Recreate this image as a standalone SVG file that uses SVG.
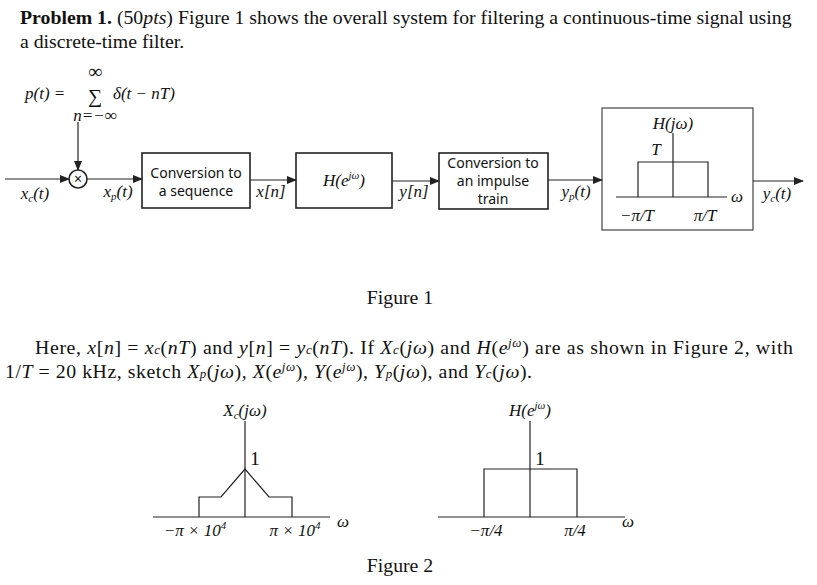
<svg xmlns="http://www.w3.org/2000/svg" width="817" height="585" viewBox="0 0 817 585">
<style>
text{font-family:"Liberation Serif","DejaVu Serif",serif;font-size:19.8px;fill:#111}
.m{font-family:"Liberation Serif","DejaVu Serif",serif;font-style:italic;font-size:17px}
.s{font-family:"Noto Sans","DejaVu Sans",sans-serif;font-size:14px;font-style:normal}
.c{text-anchor:middle}
.box{fill:#fff;stroke:#222;stroke-width:1.6}
.ln{fill:none;stroke:#222;stroke-width:1.2}
</style>
<defs><marker id="a" markerWidth="10" markerHeight="8" refX="9" refY="4" orient="auto" markerUnits="userSpaceOnUse"><path d="M0,0L10,4L0,8z" fill="#222"/></marker></defs>
<rect width="817" height="585" fill="#fff"/>
<text x="20" y="24"><tspan font-weight="bold">Problem 1.</tspan> (50<tspan font-style="italic">pts</tspan>) Figure 1 shows the overall system for filtering a continuous-time signal using</text>
<text x="20" y="48">a discrete-time filter.</text>
<g id="p"><text x="25" y="99" class="m">p(t) =</text><text x="95" y="103" class="c" font-size="28" font-family="DejaVu Serif">∑</text><text x="95" y="78" class="c" font-size="11">∞</text><text x="95" y="121" class="c m" font-size="11">n=−∞</text><text x="113" y="99" class="m">δ(t − nT)</text></g>
<g id="mult"><circle cx="78" cy="179" r="9" class="box" stroke-width="1.3"/><text x="78" y="184" class="c s">×</text></g>
<g id="b1"><rect x="142" y="153" width="108" height="55" class="box"/><text x="196" y="178" class="c s">Conversion to</text><text x="196" y="196" class="c s">a sequence</text></g>
<g id="b2"><rect x="296" y="153" width="96" height="55" class="box"/><text x="344" y="186" class="c m">H(e<tspan font-size="11" dy="-7">jω</tspan><tspan dy="7">)</tspan></text></g>
<g id="b3"><rect x="439" y="153" width="109" height="56" class="box"/><text x="493" y="168" class="c s">Conversion to</text><text x="493" y="186" class="c s">an impulse</text><text x="493" y="204" class="c s">train</text></g>
<g id="b4"><rect x="602" y="108" width="151" height="122" fill="#fff" stroke="#444" stroke-width="1.2"/>
<line x1="616" y1="197" x2="727" y2="197" class="ln"/><line x1="673" y1="133" x2="673" y2="197" class="ln"/><path d="M638,197V162H708V197" class="ln"/>
<text x="673" y="129" class="c m">H(jω)</text><text x="656" y="155" class="c m">T</text><text x="737" y="202" class="c m">ω</text><text x="637" y="221" class="c m">−π/T</text><text x="705" y="221" class="c m">π/T</text></g>
<g id="conn">
<line x1="5" y1="179" x2="69" y2="179" class="ln" marker-end="url(#a)"/>
<line x1="78" y1="122" x2="78" y2="170" class="ln" marker-end="url(#a)"/>
<line x1="87" y1="179" x2="142" y2="179" class="ln" marker-end="url(#a)"/>
<line x1="250" y1="180" x2="296" y2="180" class="ln" marker-end="url(#a)"/>
<line x1="392" y1="181" x2="439" y2="181" class="ln" marker-end="url(#a)"/>
<line x1="548" y1="180" x2="602" y2="180" class="ln" marker-end="url(#a)"/>
<line x1="753" y1="181" x2="803" y2="181" class="ln" marker-end="url(#a)"/>
</g>
<g><text x="35" y="199" class="c m">x<tspan font-size="11" dy="3">c</tspan><tspan dy="-3">(t)</tspan></text>
<text x="118" y="197" class="c m">x<tspan font-size="11" dy="3">p</tspan><tspan dy="-3">(t)</tspan></text>
<text x="271" y="197" class="c m">x[n]</text><text x="414" y="197" class="c m">y[n]</text>
<text x="576" y="197" class="c m">y<tspan font-size="11" dy="3">p</tspan><tspan dy="-3">(t)</tspan></text>
<text x="777" y="199" class="c m">y<tspan font-size="11" dy="3">c</tspan><tspan dy="-3">(t)</tspan></text></g>
<text x="400" y="304" class="c">Figure 1</text>
<text x="35" y="354" textLength="758" lengthAdjust="spacing">Here, <tspan font-style="italic">x</tspan>[<tspan font-style="italic">n</tspan>] = <tspan font-style="italic">x<tspan font-size="13">c</tspan></tspan>(<tspan font-style="italic">nT</tspan>) and <tspan font-style="italic">y</tspan>[<tspan font-style="italic">n</tspan>] = <tspan font-style="italic">y<tspan font-size="13">c</tspan></tspan>(<tspan font-style="italic">nT</tspan>). If <tspan font-style="italic">X<tspan font-size="13">c</tspan></tspan>(<tspan font-style="italic">jω</tspan>) and <tspan font-style="italic">H</tspan>(<tspan font-style="italic">e<tspan font-size="13" dy="-7">jω</tspan></tspan><tspan dy="7">)</tspan> are as shown in Figure 2, with</text>
<text x="5" y="378" textLength="527" lengthAdjust="spacing">1/<tspan font-style="italic">T</tspan> = 20 kHz, sketch <tspan font-style="italic">X<tspan font-size="13">p</tspan></tspan>(<tspan font-style="italic">jω</tspan>), <tspan font-style="italic">X</tspan>(<tspan font-style="italic">e<tspan font-size="13" dy="-7">jω</tspan></tspan><tspan dy="7">), </tspan><tspan font-style="italic">Y</tspan>(<tspan font-style="italic">e<tspan font-size="13" dy="-7">jω</tspan></tspan><tspan dy="7">), </tspan><tspan font-style="italic">Y<tspan font-size="13">p</tspan></tspan>(<tspan font-style="italic">jω</tspan>), and <tspan font-style="italic">Y<tspan font-size="13">c</tspan></tspan>(<tspan font-style="italic">jω</tspan>).</text>
<g id="fig2a"><line x1="153" y1="517" x2="330" y2="517" class="ln"/><line x1="245" y1="421" x2="245" y2="517" class="ln"/>
<path d="M199,517V497H221L245,469L269,497H292V517" class="ln"/>
<text x="245" y="416" class="c m">X<tspan font-size="11" dy="3">c</tspan><tspan dy="-3">(jω)</tspan></text><text x="250" y="465" font-size="16">1</text>
<text x="195" y="536" class="c m">−π × 10<tspan font-size="11" dy="-7">4</tspan></text><text x="295" y="536" class="c m">π × 10<tspan font-size="11" dy="-7">4</tspan></text><text x="343" y="527" class="c m" font-size="14">ω</text></g>
<g id="fig2b"><line x1="438" y1="517" x2="625" y2="517" class="ln"/><line x1="530" y1="421" x2="530" y2="517" class="ln"/>
<path d="M484,517V469H577V517" class="ln"/>
<text x="530" y="416" class="c m">H(e<tspan font-size="11" dy="-7">jω</tspan><tspan dy="7">)</tspan></text><text x="535" y="465" font-size="16">1</text>
<text x="486" y="536" class="c m">−π/4</text><text x="575" y="536" class="c m">π/4</text><text x="628" y="527" class="c m" font-size="14">ω</text></g>
<text x="400" y="572" class="c">Figure 2</text>
</svg>
